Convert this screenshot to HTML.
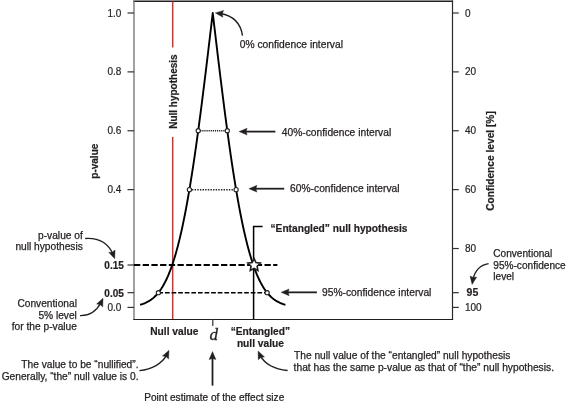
<!DOCTYPE html>
<html><head><meta charset="utf-8"><style>
html,body{margin:0;padding:0;background:#fff;width:568px;height:401px;overflow:hidden}
svg{display:block}
</style></head><body>
<svg width="568" height="401" viewBox="0 0 568 401">
<rect width="568" height="401" fill="#fff"/>
<g stroke-linecap="butt" fill="none">
<line x1="133.3" y1="1.25" x2="453.1" y2="1.25" stroke="#231f20" stroke-width="1.5"/>
<line x1="134" y1="0.5" x2="134" y2="319.8" stroke="#7a7a7a" stroke-width="1.4"/>
<line x1="452.5" y1="0.5" x2="452.5" y2="320.1" stroke="#2a2a2a" stroke-width="1.2"/>
<line x1="133.3" y1="319.5" x2="453.1" y2="319.5" stroke="#231f20" stroke-width="1.2"/>
</g>
<line x1="127.5" y1="13.00" x2="134" y2="13.00" stroke="#333" stroke-width="1.2"/>
<text x="121.3" y="16.6" text-anchor="end" font-family="Liberation Sans, Arial, Helvetica, sans-serif" font-size="10" fill="#231f20" stroke="#231f20" stroke-width="0.2">1.0</text>
<line x1="127.5" y1="71.88" x2="134" y2="71.88" stroke="#333" stroke-width="1.2"/>
<text x="121.3" y="75.48" text-anchor="end" font-family="Liberation Sans, Arial, Helvetica, sans-serif" font-size="10" fill="#231f20" stroke="#231f20" stroke-width="0.2">0.8</text>
<line x1="127.5" y1="130.76" x2="134" y2="130.76" stroke="#333" stroke-width="1.2"/>
<text x="121.3" y="134.36" text-anchor="end" font-family="Liberation Sans, Arial, Helvetica, sans-serif" font-size="10" fill="#231f20" stroke="#231f20" stroke-width="0.2">0.6</text>
<line x1="127.5" y1="189.64" x2="134" y2="189.64" stroke="#333" stroke-width="1.2"/>
<text x="121.3" y="193.24" text-anchor="end" font-family="Liberation Sans, Arial, Helvetica, sans-serif" font-size="10" fill="#231f20" stroke="#231f20" stroke-width="0.2">0.4</text>
<line x1="127.5" y1="265.00" x2="134" y2="265.00" stroke="#333" stroke-width="1.2"/>
<text x="123.8" y="268.6" text-anchor="end" font-family="Liberation Sans, Arial, Helvetica, sans-serif" font-size="10" font-weight="bold" fill="#231f20" stroke="#231f20" stroke-width="0.2">0.15</text>
<line x1="127.5" y1="292.68" x2="134" y2="292.68" stroke="#333" stroke-width="1.2"/>
<text x="123.8" y="297.08" text-anchor="end" font-family="Liberation Sans, Arial, Helvetica, sans-serif" font-size="10" font-weight="bold" fill="#231f20" stroke="#231f20" stroke-width="0.2">0.05</text>
<line x1="127.5" y1="307.40" x2="134" y2="307.40" stroke="#333" stroke-width="1.2"/>
<text x="121.3" y="311.0" text-anchor="end" font-family="Liberation Sans, Arial, Helvetica, sans-serif" font-size="10" fill="#231f20" stroke="#231f20" stroke-width="0.2">0.0</text>
<line x1="452.5" y1="13.00" x2="458.8" y2="13.00" stroke="#333" stroke-width="1.2"/>
<text x="465" y="16.6" font-family="Liberation Sans, Arial, Helvetica, sans-serif" font-size="10" fill="#231f20" stroke="#231f20" stroke-width="0.2">0</text>
<line x1="452.5" y1="71.88" x2="458.8" y2="71.88" stroke="#333" stroke-width="1.2"/>
<text x="465" y="75.48" font-family="Liberation Sans, Arial, Helvetica, sans-serif" font-size="10" fill="#231f20" stroke="#231f20" stroke-width="0.2">20</text>
<line x1="452.5" y1="130.76" x2="458.8" y2="130.76" stroke="#333" stroke-width="1.2"/>
<text x="465" y="134.36" font-family="Liberation Sans, Arial, Helvetica, sans-serif" font-size="10" fill="#231f20" stroke="#231f20" stroke-width="0.2">40</text>
<line x1="452.5" y1="189.64" x2="458.8" y2="189.64" stroke="#333" stroke-width="1.2"/>
<text x="465" y="193.24" font-family="Liberation Sans, Arial, Helvetica, sans-serif" font-size="10" fill="#231f20" stroke="#231f20" stroke-width="0.2">60</text>
<line x1="452.5" y1="248.52" x2="458.8" y2="248.52" stroke="#333" stroke-width="1.2"/>
<text x="465" y="252.12" font-family="Liberation Sans, Arial, Helvetica, sans-serif" font-size="10" fill="#231f20" stroke="#231f20" stroke-width="0.2">80</text>
<line x1="452.5" y1="292.68" x2="458.8" y2="292.68" stroke="#333" stroke-width="1.2"/>
<text x="466.6" y="296.28" font-family="Liberation Sans, Arial, Helvetica, sans-serif" font-size="10.5" font-weight="bold" fill="#231f20" stroke="#231f20" stroke-width="0.2">95</text>
<line x1="452.5" y1="307.40" x2="458.8" y2="307.40" stroke="#333" stroke-width="1.2"/>
<text x="465" y="311.0" font-family="Liberation Sans, Arial, Helvetica, sans-serif" font-size="10" fill="#231f20" stroke="#231f20" stroke-width="0.2">100</text>
<line x1="212.8" y1="319" x2="212.8" y2="326" stroke="#333" stroke-width="1.2"/>
<text transform="translate(97.8,161.2) rotate(-90)" text-anchor="middle" font-family="Liberation Sans, Arial, Helvetica, sans-serif" font-size="10" font-weight="bold" fill="#231f20" stroke="#231f20" stroke-width="0.2">p-value</text>
<text transform="translate(493.6,161) rotate(-90)" text-anchor="middle" font-family="Liberation Sans, Arial, Helvetica, sans-serif" font-size="10.2" font-weight="bold" fill="#231f20" stroke="#231f20" stroke-width="0.2">Confidence level [%]</text>
<line x1="172.7" y1="1.5" x2="172.7" y2="47.5" stroke="#d8302a" stroke-width="1.5"/>
<line x1="172.7" y1="136.9" x2="172.7" y2="319" stroke="#d8302a" stroke-width="1.5"/>
<line x1="134" y1="265.00" x2="277.4" y2="265.00" stroke="#000" stroke-width="1.8" stroke-dasharray="6.3 2.4"/>
<line x1="158.36" y1="292.68" x2="267.14" y2="292.68" stroke="#000" stroke-width="1.6" stroke-dasharray="4.7 1.9"/>
<line x1="200.20" y1="130.76" x2="225.30" y2="130.76" stroke="#231f20" stroke-width="1.3" stroke-dasharray="1.2 0.9"/>
<line x1="189.40" y1="189.79" x2="236.10" y2="189.79" stroke="#231f20" stroke-width="1.5" stroke-dasharray="1.4 1.23"/>
<text transform="translate(177.1,91.6) rotate(-90)" text-anchor="middle" font-family="Liberation Sans, Arial, Helvetica, sans-serif" font-size="10" font-weight="bold" fill="#231f20" stroke="#231f20" stroke-width="0.2">Null hypothesis</text>
<polyline points="262.6,226.6 253.6,226.6 253.6,319" fill="none" stroke="#000" stroke-width="1.5" stroke-linejoin="miter"/>
<path d="M140.10,304.80 L140.58,304.66 L141.07,304.52 L141.55,304.37 L142.04,304.21 L142.52,304.05 L143.01,303.88 L143.49,303.70 L143.97,303.51 L144.46,303.32 L144.94,303.12 L145.43,302.91 L145.91,302.69 L146.40,302.45 L146.88,302.21 L147.36,301.96 L147.85,301.70 L148.33,301.43 L148.82,301.15 L149.30,300.86 L149.79,300.55 L150.27,300.23 L150.76,299.90 L151.24,299.55 L151.72,299.20 L152.21,298.82 L152.69,298.44 L153.18,298.03 L153.66,297.62 L154.15,297.18 L154.63,296.74 L155.11,296.27 L155.60,295.79 L156.08,295.29 L156.57,294.77 L157.05,294.23 L157.54,293.67 L158.02,293.10 L158.50,292.50 L158.99,291.88 L159.47,291.25 L159.96,290.59 L160.44,289.90 L160.93,289.20 L161.41,288.47 L161.89,287.72 L162.38,286.94 L162.86,286.14 L163.35,285.31 L163.83,284.46 L164.32,283.58 L164.80,282.67 L165.29,281.73 L165.77,280.77 L166.25,279.78 L166.74,278.75 L167.22,277.70 L167.71,276.62 L168.19,275.51 L168.68,274.36 L169.16,273.18 L169.64,271.97 L170.13,270.73 L170.61,269.45 L171.10,268.14 L171.58,266.79 L172.07,265.41 L172.55,263.99 L173.03,262.54 L173.52,261.05 L174.00,259.52 L174.49,257.96 L174.97,256.35 L175.46,254.71 L175.94,253.03 L176.43,251.31 L176.91,249.55 L177.39,247.75 L177.88,245.91 L178.36,244.02 L178.85,242.10 L179.33,240.14 L179.82,238.13 L180.30,236.08 L180.78,233.99 L181.27,231.86 L181.75,229.68 L182.24,227.46 L182.72,225.20 L183.21,222.90 L183.69,220.55 L184.17,218.16 L184.66,215.73 L185.14,213.25 L185.63,210.73 L186.11,208.16 L186.60,205.55 L187.08,202.90 L187.56,200.21 L188.05,197.47 L188.53,194.69 L189.02,191.87 L189.50,189.00 L189.99,186.10 L190.47,183.15 L190.95,180.16 L191.44,177.12 L191.92,174.05 L192.41,170.94 L192.89,167.78 L193.38,164.59 L193.86,161.36 L194.35,158.09 L194.83,154.78 L195.31,151.43 L195.80,148.05 L196.28,144.63 L196.77,141.17 L197.25,137.68 L197.74,134.15 L198.22,130.60 L198.70,127.01 L199.19,123.38 L199.67,119.73 L200.16,116.05 L200.64,112.33 L201.13,108.59 L201.61,104.82 L202.09,101.03 L202.58,97.21 L203.06,93.36 L203.55,89.49 L204.03,85.60 L204.52,81.69 L205.00,77.75 L205.49,73.80 L205.97,69.83 L206.45,65.84 L206.94,61.84 L207.42,57.82 L207.91,53.79 L208.39,49.75 L208.88,45.69 L209.36,41.63 L209.84,37.55 L210.33,33.47 L210.81,29.39 L211.30,25.29 L211.78,21.20 L212.27,17.10 L212.75,13.00 L213.23,17.10 L213.72,21.20 L214.20,25.29 L214.69,29.39 L215.17,33.47 L215.66,37.55 L216.14,41.63 L216.62,45.69 L217.11,49.75 L217.59,53.79 L218.08,57.82 L218.56,61.84 L219.05,65.84 L219.53,69.83 L220.01,73.80 L220.50,77.75 L220.98,81.69 L221.47,85.60 L221.95,89.49 L222.44,93.36 L222.92,97.21 L223.41,101.03 L223.89,104.82 L224.37,108.59 L224.86,112.33 L225.34,116.05 L225.83,119.73 L226.31,123.38 L226.80,127.01 L227.28,130.60 L227.76,134.15 L228.25,137.68 L228.73,141.17 L229.22,144.63 L229.70,148.05 L230.19,151.43 L230.67,154.78 L231.15,158.09 L231.64,161.36 L232.12,164.59 L232.61,167.78 L233.09,170.94 L233.58,174.05 L234.06,177.12 L234.55,180.16 L235.03,183.15 L235.51,186.10 L236.00,189.00 L236.48,191.87 L236.97,194.69 L237.45,197.47 L237.94,200.21 L238.42,202.90 L238.90,205.55 L239.39,208.16 L239.87,210.73 L240.36,213.25 L240.84,215.73 L241.33,218.16 L241.81,220.55 L242.29,222.90 L242.78,225.20 L243.26,227.46 L243.75,229.68 L244.23,231.86 L244.72,233.99 L245.20,236.08 L245.68,238.13 L246.17,240.14 L246.65,242.10 L247.14,244.02 L247.62,245.91 L248.11,247.75 L248.59,249.55 L249.07,251.31 L249.56,253.03 L250.04,254.71 L250.53,256.35 L251.01,257.96 L251.50,259.52 L251.98,261.05 L252.47,262.54 L252.95,263.99 L253.43,265.41 L253.92,266.79 L254.40,268.14 L254.89,269.45 L255.37,270.73 L255.86,271.97 L256.34,273.18 L256.82,274.36 L257.31,275.51 L257.79,276.62 L258.28,277.70 L258.76,278.75 L259.25,279.78 L259.73,280.77 L260.21,281.73 L260.70,282.67 L261.18,283.58 L261.67,284.46 L262.15,285.31 L262.64,286.14 L263.12,286.94 L263.61,287.72 L264.09,288.47 L264.57,289.20 L265.06,289.90 L265.54,290.59 L266.03,291.25 L266.51,291.88 L267.00,292.50 L267.48,293.10 L267.96,293.67 L268.45,294.23 L268.93,294.77 L269.42,295.29 L269.90,295.79 L270.39,296.27 L270.87,296.74 L271.35,297.18 L271.84,297.62 L272.32,298.03 L272.81,298.44 L273.29,298.82 L273.78,299.20 L274.26,299.55 L274.74,299.90 L275.23,300.23 L275.71,300.55 L276.20,300.86 L276.68,301.15 L277.17,301.43 L277.65,301.70 L278.13,301.96 L278.62,302.21 L279.10,302.45 L279.59,302.69 L280.07,302.91 L280.56,303.12 L281.04,303.32 L281.53,303.51 L282.01,303.70 L282.49,303.88 L282.98,304.05 L283.46,304.21 L283.95,304.37 L284.43,304.52 L284.92,304.66 L285.40,304.80" fill="none" stroke="#000" stroke-width="1.9" stroke-linejoin="round"/>
<circle cx="198.20" cy="130.76" r="2.1" fill="#fff" stroke="#231f20" stroke-width="1.1"/>
<circle cx="227.30" cy="130.76" r="2.1" fill="#fff" stroke="#231f20" stroke-width="1.1"/>
<circle cx="189.40" cy="189.64" r="2.1" fill="#fff" stroke="#231f20" stroke-width="1.1"/>
<circle cx="236.10" cy="189.64" r="2.1" fill="#fff" stroke="#231f20" stroke-width="1.1"/>
<circle cx="158.36" cy="292.68" r="2.1" fill="#fff" stroke="#231f20" stroke-width="1.1"/>
<circle cx="267.14" cy="292.68" r="2.1" fill="#fff" stroke="#231f20" stroke-width="1.1"/>
<polygon points="254.10,258.70 255.98,262.61 260.28,263.19 257.14,266.19 257.92,270.46 254.10,268.40 250.28,270.46 251.06,266.19 247.92,263.19 252.22,262.61" fill="#fff" stroke="#231f20" stroke-width="1.6" stroke-linejoin="miter"/>
<path d="M242.50,35.70 Q239.82,16.78 220.27,13.47" fill="none" stroke="#231f20" stroke-width="1.4"/>
<polygon points="215.30,12.90 223.64,10.44 222.25,13.70 222.86,17.19" fill="#231f20" stroke="#231f20" stroke-width="0.4" stroke-linejoin="round"/>
<path d="M275.40,131.60 L244.10,131.60" fill="none" stroke="#231f20" stroke-width="1.8"/>
<polygon points="239.10,131.60 247.10,128.20 246.10,131.60 247.10,135.00" fill="#231f20" stroke="#231f20" stroke-width="0.4" stroke-linejoin="round"/>
<path d="M284.20,188.70 L253.90,188.70" fill="none" stroke="#231f20" stroke-width="1.8"/>
<polygon points="248.90,188.70 256.90,185.30 255.90,188.70 256.90,192.10" fill="#231f20" stroke="#231f20" stroke-width="0.4" stroke-linejoin="round"/>
<path d="M316.90,292.35 L286.10,292.35" fill="none" stroke="#231f20" stroke-width="1.8"/>
<polygon points="281.10,292.35 289.10,288.95 288.10,292.35 289.10,295.75" fill="#231f20" stroke="#231f20" stroke-width="0.4" stroke-linejoin="round"/>
<path d="M85.20,238.50 Q105.38,237.17 112.95,254.02" fill="none" stroke="#231f20" stroke-width="1.4"/>
<polygon points="114.70,258.70 108.71,252.40 112.25,252.14 115.08,250.02" fill="#231f20" stroke="#231f20" stroke-width="0.4" stroke-linejoin="round"/>
<path d="M80.00,315.60 Q93.80,315.95 100.91,302.74" fill="none" stroke="#231f20" stroke-width="1.4"/>
<polygon points="103.00,298.20 102.74,306.89 100.07,304.56 96.57,304.05" fill="#231f20" stroke="#231f20" stroke-width="0.4" stroke-linejoin="round"/>
<path d="M488.60,263.60 Q476.09,265.66 472.90,279.46" fill="none" stroke="#231f20" stroke-width="1.4"/>
<polygon points="472.10,284.40 470.03,275.96 473.22,277.49 476.74,277.05" fill="#231f20" stroke="#231f20" stroke-width="0.4" stroke-linejoin="round"/>
<path d="M139.40,370.60 Q158.95,368.35 166.83,354.80" fill="none" stroke="#231f20" stroke-width="1.4"/>
<polygon points="169.00,350.30 168.58,358.98 165.96,356.60 162.46,356.03" fill="#231f20" stroke="#231f20" stroke-width="0.4" stroke-linejoin="round"/>
<path d="M212.50,385.60 L212.50,356.60" fill="none" stroke="#231f20" stroke-width="1.8"/>
<polygon points="212.50,351.60 215.90,359.60 212.50,358.60 209.10,359.60" fill="#231f20" stroke="#231f20" stroke-width="0.4" stroke-linejoin="round"/>
<path d="M287.60,370.50 Q267.37,368.36 260.15,355.56" fill="none" stroke="#231f20" stroke-width="1.4"/>
<polygon points="258.10,351.00 264.48,356.91 260.97,357.39 258.27,359.69" fill="#231f20" stroke="#231f20" stroke-width="0.4" stroke-linejoin="round"/>
<text x="239.8" y="47.7" font-family="Liberation Sans, Arial, Helvetica, sans-serif" font-size="10.25" fill="#231f20" stroke="#231f20" stroke-width="0.25">0% confidence interval</text>
<text x="281.8" y="135.6" font-family="Liberation Sans, Arial, Helvetica, sans-serif" font-size="10.25" fill="#231f20" stroke="#231f20" stroke-width="0.25">40%-confidence interval</text>
<text x="290.1" y="192" font-family="Liberation Sans, Arial, Helvetica, sans-serif" font-size="10.25" fill="#231f20" stroke="#231f20" stroke-width="0.25">60%-confidence interval</text>
<text x="322" y="295.6" font-family="Liberation Sans, Arial, Helvetica, sans-serif" font-size="10.25" fill="#231f20" stroke="#231f20" stroke-width="0.25">95%-confidence interval</text>
<text x="270.5" y="231.6" font-family="Liberation Sans, Arial, Helvetica, sans-serif" font-size="10.2" font-weight="bold" fill="#231f20" stroke="#231f20" stroke-width="0.2">“Entangled” null hypothesis</text>
<text x="82.8" y="238.6" text-anchor="end" font-family="Liberation Sans, Arial, Helvetica, sans-serif" font-size="10.2" fill="#231f20" stroke="#231f20" stroke-width="0.25">p-value of</text>
<text x="82.8" y="249.6" text-anchor="end" font-family="Liberation Sans, Arial, Helvetica, sans-serif" font-size="10.2" fill="#231f20" stroke="#231f20" stroke-width="0.25">null hypothesis</text>
<text x="76.9" y="306.8" text-anchor="end" font-family="Liberation Sans, Arial, Helvetica, sans-serif" font-size="10.2" fill="#231f20" stroke="#231f20" stroke-width="0.25">Conventional</text>
<text x="76.9" y="318.8" text-anchor="end" font-family="Liberation Sans, Arial, Helvetica, sans-serif" font-size="10.2" fill="#231f20" stroke="#231f20" stroke-width="0.25">5% level</text>
<text x="76.9" y="330.2" text-anchor="end" font-family="Liberation Sans, Arial, Helvetica, sans-serif" font-size="10.2" fill="#231f20" stroke="#231f20" stroke-width="0.25">for the p-value</text>
<text x="493.3" y="256.7" font-family="Liberation Sans, Arial, Helvetica, sans-serif" font-size="10.1" fill="#231f20" stroke="#231f20" stroke-width="0.25">Conventional</text>
<text x="493.3" y="268.5" font-family="Liberation Sans, Arial, Helvetica, sans-serif" font-size="10.1" fill="#231f20" stroke="#231f20" stroke-width="0.25">95%-confidence</text>
<text x="493.3" y="279.5" font-family="Liberation Sans, Arial, Helvetica, sans-serif" font-size="10.1" fill="#231f20" stroke="#231f20" stroke-width="0.25">level</text>
<text x="174.3" y="334.7" text-anchor="middle" font-family="Liberation Sans, Arial, Helvetica, sans-serif" font-size="10.2" font-weight="bold" fill="#231f20" stroke="#231f20" stroke-width="0.2">Null value</text>
<text x="260.4" y="334.5" text-anchor="middle" font-family="Liberation Sans, Arial, Helvetica, sans-serif" font-size="10.2" font-weight="bold" fill="#231f20" stroke="#231f20" stroke-width="0.2">“Entangled”</text>
<text x="260.4" y="346.5" text-anchor="middle" font-family="Liberation Sans, Arial, Helvetica, sans-serif" font-size="10.2" font-weight="bold" fill="#231f20" stroke="#231f20" stroke-width="0.2">null value</text>
<text x="213.7" y="340" text-anchor="middle" font-family="Liberation Serif, Times New Roman, serif" font-style="italic" font-size="17" fill="#231f20" stroke="#231f20" stroke-width="0.3">d</text>
<text x="138.5" y="368.4" text-anchor="end" font-family="Liberation Sans, Arial, Helvetica, sans-serif" font-size="10.2" fill="#231f20" stroke="#231f20" stroke-width="0.25">The value to be “nullified”.</text>
<text x="138.5" y="379.5" text-anchor="end" font-family="Liberation Sans, Arial, Helvetica, sans-serif" font-size="10.2" fill="#231f20" stroke="#231f20" stroke-width="0.25">Generally, “the” null value is 0.</text>
<text x="294" y="359.2" font-family="Liberation Sans, Arial, Helvetica, sans-serif" font-size="10.2" fill="#231f20" stroke="#231f20" stroke-width="0.25">The null value of the “entangled” null hypothesis</text>
<text x="293.6" y="370.8" font-family="Liberation Sans, Arial, Helvetica, sans-serif" font-size="10.26" fill="#231f20" stroke="#231f20" stroke-width="0.25">that has the same p-value as that of “the” null hypothesis.</text>
<text x="144.2" y="400.6" font-family="Liberation Sans, Arial, Helvetica, sans-serif" font-size="10.1" fill="#231f20" stroke="#231f20" stroke-width="0.25">Point estimate of the effect size</text>
</svg>
</body></html>
